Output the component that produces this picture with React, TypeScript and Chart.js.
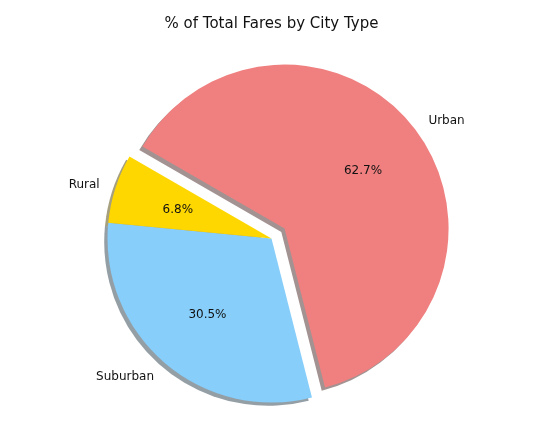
import React, { useEffect, useRef } from "react";
import { Chart, registerables } from "chart.js";

Chart.register(...registerables);

const chartTitle = "% of Total Fares by City Type";
const categories = ["Urban", "Suburban", "Rural"];
const farePercents = [62.7, 30.5, 6.8];
const explodeFractions = [0.1, 0, 0];
const sliceColors = ["#F08080", "#87CEFA", "#FFD700"];

const FONT = '"DejaVu Sans", "Liberation Sans", sans-serif';

function shadowColor(hex: string): string {
  const n = parseInt(hex.slice(1), 16);
  const r = Math.round(((n >> 16) & 255) * 0.3);
  const g = Math.round(((n >> 8) & 255) * 0.3);
  const b = Math.round((n & 255) * 0.3);
  return `rgba(${r},${g},${b},0.5)`;
}

const piePlugin = {
  id: "mplPie",
  beforeDatasetsDraw(chart: any) {
    const meta = chart.getDatasetMeta(0);
    const ctx = chart.ctx as CanvasRenderingContext2D;
    const arcs = meta.data as any[];
    // shadows first
    arcs.forEach((arc, i) => {
      const p = arc.getProps(["x", "y", "startAngle", "endAngle", "outerRadius"], true);
      const mid = (p.startAngle + p.endAngle) / 2;
      const ex = explodeFractions[i] * p.outerRadius;
      const so = 0.02 * p.outerRadius;
      const cx = p.x + Math.cos(mid) * ex - so;
      const cy = p.y + Math.sin(mid) * ex + so;
      ctx.save();
      ctx.beginPath();
      ctx.moveTo(cx, cy);
      ctx.arc(cx, cy, p.outerRadius, p.startAngle, p.endAngle);
      ctx.closePath();
      ctx.fillStyle = shadowColor(sliceColors[i]);
      ctx.fill();
      ctx.restore();
    });
    arcs.forEach((arc, i) => {
      const p = arc.getProps(["startAngle", "endAngle", "outerRadius"], true);
      const mid = (p.startAngle + p.endAngle) / 2;
      const ex = explodeFractions[i] * p.outerRadius;
      ctx.save();
      ctx.translate(Math.cos(mid) * ex, Math.sin(mid) * ex);
      arc.draw(ctx);
      ctx.restore();
    });
    return false;
  },
  afterDraw(chart: any) {
    const meta = chart.getDatasetMeta(0);
    const ctx = chart.ctx as CanvasRenderingContext2D;
    const total = farePercents.reduce((a, b) => a + b, 0);
    const dy = 1.5;
    (meta.data as any[]).forEach((arc, i) => {
      const p = arc.getProps(["x", "y", "startAngle", "endAngle", "outerRadius"], true);
      const mid = (p.startAngle + p.endAngle) / 2;
      const ex = explodeFractions[i] * p.outerRadius;
      const cx = p.x + Math.cos(mid) * ex;
      const cy = p.y + Math.sin(mid) * ex;
      ctx.save();
      ctx.fillStyle = "#111";
      ctx.font = `12px ${FONT}`;
      ctx.textBaseline = "middle";
      const lx = cx + Math.cos(mid) * p.outerRadius * 1.1;
      const ly = cy + Math.sin(mid) * p.outerRadius * 1.1 + dy;
      ctx.textAlign = Math.cos(mid) > 0 ? "left" : "right";
      ctx.fillText(categories[i], lx, ly);
      const px = cx + Math.cos(mid) * p.outerRadius * 0.6;
      const py = cy + Math.sin(mid) * p.outerRadius * 0.6 + dy;
      ctx.textAlign = "center";
      ctx.fillText(((farePercents[i] / total) * 100).toFixed(1) + "%", px, py);
      ctx.restore();
    });
    const area = chart.chartArea;
    ctx.save();
    ctx.fillStyle = "#111";
    ctx.font = `15px ${FONT}`;
    ctx.textAlign = "center";
    ctx.textBaseline = "alphabetic";
    ctx.fillText(chartTitle, (area.left + area.right) / 2, 20);
    ctx.restore();
  },
};

export default function App() {
  const ref = useRef<HTMLCanvasElement | null>(null);
  useEffect(() => {
    if (!ref.current) return;
    const chart = new Chart(ref.current, {
      type: "pie",
      data: {
        labels: categories,
        datasets: [
          {
            data: farePercents,
            backgroundColor: sliceColors,
            borderWidth: 0,
            rotation: 300,
            radius: 164,
          } as any,
        ],
      },
      options: {
        animation: false,
        responsive: false,
        events: [],
        layout: { padding: { left: 0, right: 3, top: 60, bottom: 4 } },
        plugins: {
          legend: { display: false },
          title: { display: false },
          tooltip: { enabled: false },
        },
      },
      plugins: [piePlugin],
    });
    return () => chart.destroy();
  }, []);
  return (
    <div style={{ width: 530, height: 405, background: "#fff" }}>
      <canvas ref={ref} width={530} height={405} style={{ display: "block" }} />
    </div>
  );
}
